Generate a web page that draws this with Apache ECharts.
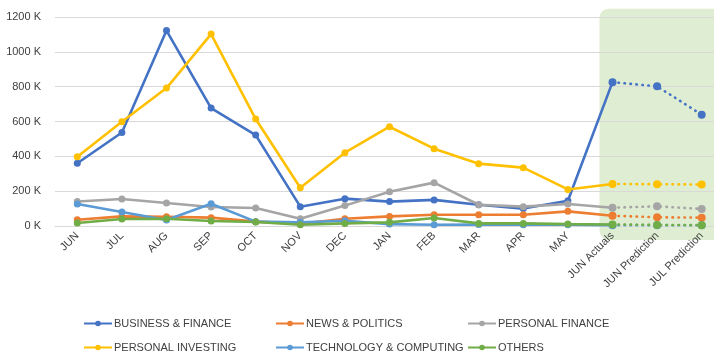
<!DOCTYPE html>
<html><head><meta charset="utf-8">
<script src="https://cdn.jsdelivr.net/npm/echarts@6/dist/echarts.min.js"></script>
<style>html,body{margin:0;padding:0;background:#fff;overflow:hidden}#c{width:724px;height:359px}</style>
</head><body><div id="c"></div>
<script>
const categories = ['JUN','JUL','AUG','SEP','OCT','NOV','DEC','JAN','FEB','MAR','APR','MAY','JUN Actuals','JUN Prediction','JUL Prediction'];
const yTicks = [0, 200, 400, 600, 800, 1000, 1200];
// values in K
const businessFinance   = [360, 537, 1122, 677, 522, 111, 157, 140, 150, 122, 100, 145, 826, 802, 639];
const newsPolitics      = [36, 55, 53, 48, 25, 13, 42, 55, 65, 65, 65, 84, 59, 50, 48];
const personalFinance   = [141, 155, 132, 109, 103, 42, 117, 197, 249, 122, 111, 126, 105, 113, 98];
const personalInvesting = [398, 599, 792, 1102, 614, 220, 421, 570, 444, 358, 335, 210, 241, 240, 238];
const techComputing     = [126, 80, 34, 128, 25, 21, 30, 11, 7, 8, 7, 7, 5, 5, 4];
const others            = [17, 40, 42, 29, 23, 7, 15, 21, 46, 15, 15, 11, 9, 6, 5];

const seriesDefs = [
  {name:'BUSINESS & FINANCE', data:businessFinance, color:'#4472C4'},
  {name:'NEWS & POLITICS', data:newsPolitics, color:'#ED7D31'},
  {name:'PERSONAL FINANCE', data:personalFinance, color:'#A5A5A5'},
  {name:'PERSONAL INVESTING', data:personalInvesting, color:'#FFC000'},
  {name:'TECHNOLOGY & COMPUTING', data:techComputing, color:'#5B9BD5'},
  {name:'OTHERS', data:others, color:'#70AD47'}
];
const splitIdx = 12;

const series = [];
seriesDefs.forEach(d => {
  series.push({
    name: d.name, type:'line', data: d.data.map((v,i)=> i<=splitIdx ? v : null),
    symbol:'circle', symbolSize:7, color:d.color,
    lineStyle:{width:2.6, color:d.color}, itemStyle:{color:d.color}, z:3
  });
});
seriesDefs.forEach(d => {
  series.push({
    name: d.name, type:'line', data: d.data.map((v,i)=> i>=splitIdx ? v : null),
    symbol:'circle', symbolSize:8, color:d.color,
    lineStyle:{width:2.6, color:d.color, type:[0.5,5.5], cap:'round'}, itemStyle:{color:d.color}, z:3
  });
});

const font = 'Liberation Sans, Arial, sans-serif';
const legendCommon = {orient:'vertical', top:313, itemWidth:28, itemHeight:7, itemGap:13,
  textStyle:{fontFamily:font, fontSize:11, color:'#404040', padding:[0,0,0,-3]}, selectedMode:false};

const chart = echarts.init(document.getElementById('c'), null, {renderer:'canvas'});
chart.setOption({
  animation:false,
  backgroundColor:'#fff',
  grid:{left:55, right:0, top:17, bottom:133, containLabel:false},
  xAxis:{type:'category', data:categories, boundaryGap:true,
    axisLine:{lineStyle:{color:'#d9d9d9', width:1}}, axisTick:{show:false},
    axisLabel:{rotate:45, interval:0, margin:8, fontFamily:font, fontSize:11, color:'#404040'}},
  yAxis:{type:'value', min:yTicks[0], max:yTicks[yTicks.length-1], interval:200,
    splitLine:{lineStyle:{color:'#d9d9d9', width:1}}, axisLine:{show:false}, axisTick:{show:false},
    axisLabel:{formatter:v=>v+' K', margin:14, fontFamily:font, fontSize:11, color:'#404040'}},
  legend:[
    Object.assign({left:78, data:['BUSINESS & FINANCE','PERSONAL INVESTING']}, legendCommon),
    Object.assign({left:270, data:['NEWS & POLITICS','TECHNOLOGY & COMPUTING']}, legendCommon),
    Object.assign({left:462, data:['PERSONAL FINANCE','OTHERS']}, legendCommon)
  ],
  series: series
});

// highlight area behind the actuals/prediction columns
const pA = chart.convertToPixel({xAxisIndex:0, yAxisIndex:0}, [categories[splitIdx], 1248]);
const pB = chart.convertToPixel({xAxisIndex:0, yAxisIndex:0}, [categories[splitIdx], -80]);
chart.setOption({
  graphic:[{type:'rect', z:-10, silent:true,
    shape:{x:pA[0]-13, y:pA[1], width:724 - (pA[0]-13) + 20, height:pB[1]-pA[1], r:9},
    style:{fill:'#dfeed2'}}]
});
</script></body></html>
